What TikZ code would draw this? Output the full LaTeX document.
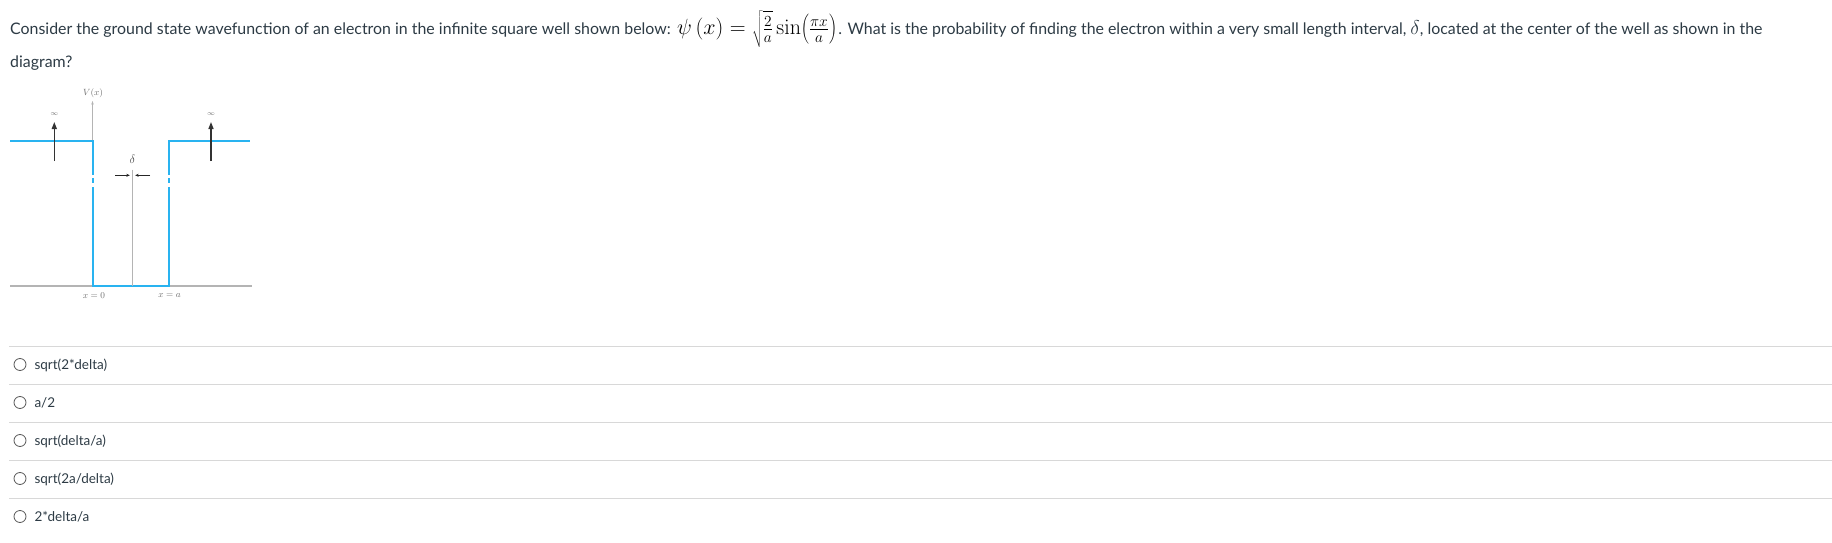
\RequirePackage{fix-cm}
\documentclass[tikz,border=0pt]{standalone}
\usepackage[no-math]{fontspec}
\setmainfont{Lato}
\usetikzlibrary{arrows.meta}
\definecolor{txt}{HTML}{2D3B45}
\definecolor{wellblue}{HTML}{29B3F0}
\definecolor{axisgray}{HTML}{B4B4B4}
\definecolor{labgray}{HTML}{6E6E6E}
\definecolor{sepgray}{HTML}{D8D8D8}
\tikzset{
  qtext/.style={inner sep=0pt, anchor=base west, text=txt, font=\fontsize{15.9}{19}\selectfont},
  qmath/.style={inner sep=0pt, anchor=base west, text=black, font=\fontsize{22}{26}\selectfont},
  opttext/.style={inner sep=0pt, anchor=base west, text=txt, font=\fontsize{13.5}{16}\selectfont},
  sep/.style={draw=sepgray, line width=1pt},
  radio/.style={circle, draw=black!65, line width=0.8pt, minimum size=12pt, inner sep=0pt},
  well/.style={draw=wellblue, line width=2pt},
  gline/.style={draw=axisgray, line width=1.5pt},
  lab/.style={inner sep=0pt, text=labgray, font=\fontsize{9}{10}\selectfont},
  uparrow/.style={draw=black!80, line width=1.3pt, -{Triangle[length=7pt,width=5pt]}},
  darr/.style={draw=black!85, line width=0.8pt, -{Stealth[length=3.5pt,width=3pt]}}
}
\begin{document}
\begin{tikzpicture}[x=1pt,y=-1pt]
\useasboundingbox[fill=white] (0,0) rectangle (1832,543);
% question
\node[qtext] (q1) at (10,35) {Consider the ground state wavefunction of an electron in the infinite square well shown below:};
\node[qmath] (qm1) at (677,35) {$\psi\,(x)$};
\node[qmath] (qm2) at ([xshift=6pt]qm1.base east) {$=$};
\node[qmath] (qm3) at ([xshift=6pt]qm2.base east) {$\sqrt{\rule[-0.5em]{0pt}{1.5em}\frac{2}{a}}$};
\node[qmath] (qm4) at ([xshift=3pt]qm3.base east) {$\mathrm{sin}\!\left(\rule[-0.45em]{0pt}{1.4em}\frac{\pi x}{a}\right)$};
\node[qtext] (q2) at ([xshift=1pt]qm4.base east) {. What is the probability of finding the electron within a very small length interval, {\fontsize{20}{24}\selectfont$\delta$}, located at the center of the well as shown in the};
\node[qtext] (q3) at (10,68) {diagram?};
% diagram
\coordinate (bl) at (10,286);
\coordinate (br) at (252,286);
\draw[gline] (bl) -- (br);
\coordinate (ltop) at (10,141);
\coordinate (w0t) at (92.5,141);
\coordinate (w0b) at (92.5,286);
\coordinate (wat) at (169.3,141);
\coordinate (wab) at (169.3,286);
\coordinate (rtop) at (250,141);
\coordinate (axtip) at (92.5,101);
\draw[draw=axisgray, line width=1pt, -{Stealth[length=3.5pt,width=2.5pt]}] (w0t) -- (axtip);
\draw[well] (ltop) -- (w0t) -- (w0b) -- (wab) -- (wat) -- (rtop);
% breaks in walls
\foreach \xx in {92.5,169.3}{
  \fill[white] (\xx-2,175.3) rectangle (\xx+2,177.6);
  \fill[white] (\xx-2,183.3) rectangle (\xx+2,187.3);
}
% center line and delta
\coordinate (ctop) at (132.5,169.5);
\coordinate (cbot) at (132.5,286);
\draw[gline] (ctop) -- (cbot);
\node[lab, font=\fontsize{12}{13}\selectfont, text=black!70] (delta) at (132.5,159.5) {$\delta$};
\coordinate (la0) at (115,175.3);
\coordinate (la1) at (129.8,175.3);
\coordinate (ra0) at (150,175.3);
\coordinate (ra1) at (135.2,175.3);
\draw[darr] (la0) -- (la1);
\draw[darr] (ra0) -- (ra1);
% infinity arrows
\coordinate (ua0) at (54.3,161);
\coordinate (ua1) at (54.3,122);
\coordinate (ub0) at (211,161);
\coordinate (ub1) at (211,122);
\draw[uparrow] (ua0) -- (ua1);
\draw[uparrow] (ub0) -- (ub1);
\node[lab, font=\fontsize{6.5}{7}\selectfont] (inf1) at (54.3,114) {$\infty$};
\node[lab, font=\fontsize{6.5}{7}\selectfont] (inf2) at (211,114) {$\infty$};
\node[lab] (vx) at (93,93) {$V(x)$};
\node[lab] (x0) at (94,295.5) {$x = 0$};
\node[lab] (xa) at (169.5,295.5) {$x = a$};
% options
\foreach \yy in {346,384.3,422.3,460.3,498.3}{
  \draw[sep] (9,\yy) -- (1832,\yy);
}
\node[radio] (r1) at (20,364.5) {};
\node[radio] (r2) at (20,402.5) {};
\node[radio] (r3) at (20,440.5) {};
\node[radio] (r4) at (20,478.5) {};
\node[radio] (r5) at (20,516.5) {};
\node[opttext] (o1) at (34.3,369) {sqrt(2*delta)};
\node[opttext] (o2) at (34.3,407) {a/2};
\node[opttext] (o3) at (34.3,445) {sqrt(delta/a)};
\node[opttext] (o4) at (34.3,483) {sqrt(2a/delta)};
\node[opttext] (o5) at (34.3,521) {2*delta/a};
\end{tikzpicture}
\end{document}
